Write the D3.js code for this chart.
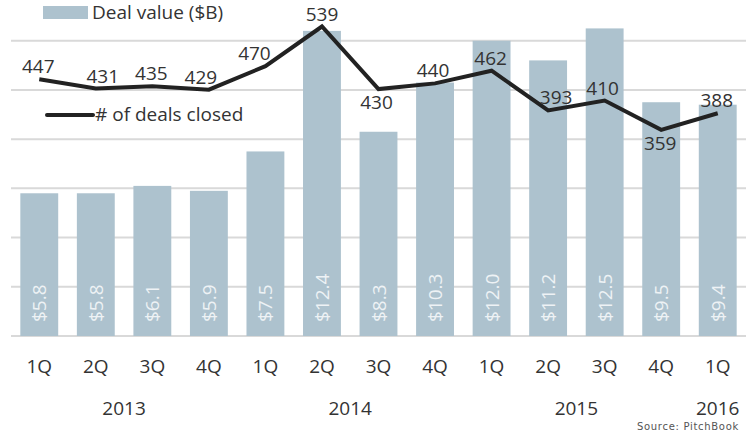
<!DOCTYPE html>
<html>
<head>
<meta charset="utf-8">
<script src="https://cdn.jsdelivr.net/npm/d3@7"></script>
<style>
  html, body { margin: 0; padding: 0; background: #fff; }
  svg { display: block; }
</style>
</head>
<body>
<svg id="chart" width="754" height="436"></svg>
<script>
// ---- data ----
const quarters = ["1Q","2Q","3Q","4Q","1Q","2Q","3Q","4Q","1Q","2Q","3Q","4Q","1Q"];
const years = ["2013","2013","2013","2013","2014","2014","2014","2014","2015","2015","2015","2015","2016"];
const dealValue = [5.8, 5.8, 6.1, 5.9, 7.5, 12.4, 8.3, 10.3, 12.0, 11.2, 12.5, 9.5, 9.4];
const dealsClosed = [447, 431, 435, 429, 470, 539, 430, 440, 462, 393, 410, 359, 388];
const yearLabels = ["2013", "2014", "2015", "2016"];
// label placement for the line values (style only)
const countLabelSide = ["above","above","above","above","above","above","below","above","above","above","above","below","above"];
const countLabelDx = [-1, 7, -1, -8, -11, 0, -2, -2, -1, 8, -2, -1, -1];

const FONT = "'Open Sans', 'Segoe UI', sans-serif";
const svg = d3.select("#chart");
const plotLeft = 11, plotRight = 746, baseY = 336, topY = -8.5;

const x = d3.scaleBand().domain(d3.range(quarters.length)).range([plotLeft, plotRight]).paddingInner(0.33).paddingOuter(0.165);
const y = d3.scaleLinear().domain([0, 14]).range([baseY, topY]);
const y2 = d3.scaleLinear().domain([0, 600]).range([baseY, topY]);

// gridlines
const grid = svg.append("g");
grid.selectAll("line").data(d3.range(0, 13, 2)).join("line")
  .attr("x1", plotLeft).attr("x2", plotRight)
  .attr("y1", d => y(d)).attr("y2", d => y(d))
  .attr("stroke", "#d9d9d9").attr("stroke-width", 2);

// bars
svg.append("g").selectAll("rect").data(dealValue).join("rect")
  .attr("x", (d, i) => x(i)).attr("width", x.bandwidth())
  .attr("y", d => y(d)).attr("height", d => baseY - y(d))
  .attr("fill", "#adc2ce");

// bar labels (rotated)
svg.append("g").selectAll("text").data(dealValue).join("text")
  .attr("transform", (d, i) => `translate(${x(i) + x.bandwidth() / 2 + 7},322) rotate(-90)`)
  .attr("text-anchor", "start")
  .attr("font-family", FONT).attr("font-size", 19)
  .attr("fill", "#eef2f5")
  .text(d => "$" + d.toFixed(1));

// line
const cx = i => x(i) + x.bandwidth() / 2;
const line = d3.line().x((d, i) => cx(i)).y(d => y2(d));
svg.append("path").datum(dealsClosed)
  .attr("d", line).attr("fill", "none")
  .attr("stroke", "#222").attr("stroke-width", 4).attr("stroke-linejoin", "miter");

// line labels
svg.append("g").selectAll("text").data(dealsClosed).join("text")
  .attr("x", (d, i) => cx(i) + countLabelDx[i])
  .attr("y", (d, i) => countLabelSide[i] === "above" ? y2(d) - 6 : y2(d) + 20)
  .attr("text-anchor", "middle")
  .attr("font-family", FONT).attr("font-size", 19)
  .attr("fill", "#333")
  .text(d => d);

// x axis quarter labels
const xAxis = d3.axisBottom(x).tickFormat(i => quarters[i]).tickSize(0).tickPadding(0);
const gx = svg.append("g").attr("transform", `translate(0,${baseY})`).call(xAxis);
gx.select(".domain").remove();
gx.selectAll("text")
  .attr("y", 37).attr("dy", null)
  .attr("font-family", FONT).attr("font-size", 19).attr("fill", "#333");

// year labels centered on their quarters
yearLabels.forEach(yr => {
  const idx = d3.range(years.length).filter(i => years[i] === yr);
  const mid = d3.mean(idx, i => cx(i));
  svg.append("text")
    .attr("x", mid).attr("y", 415)
    .attr("text-anchor", "middle")
    .attr("font-family", FONT).attr("font-size", 19).attr("fill", "#333")
    .text(yr);
});

// legend
svg.append("rect").attr("x", 43).attr("y", 6).attr("width", 45).attr("height", 13).attr("fill", "#adc2ce");
svg.append("text").attr("x", 92).attr("y", 19)
  .attr("font-family", FONT).attr("font-size", 19).attr("fill", "#333")
  .text("Deal value ($B)");
svg.append("line").attr("x1", 47).attr("x2", 93).attr("y1", 115).attr("y2", 115)
  .attr("stroke", "#222").attr("stroke-width", 4).attr("stroke-linecap", "round");
svg.append("text").attr("x", 95).attr("y", 121)
  .attr("font-family", FONT).attr("font-size", 19).attr("fill", "#333")
  .text("# of deals closed");

// source
svg.append("text").attr("x", 739).attr("y", 430)
  .attr("text-anchor", "end")
  .attr("font-family", "'DejaVu Sans', sans-serif").attr("font-size", 10).attr("fill", "#555")
  .attr("letter-spacing", 0.7)
  .text("Source: PitchBook");
</script>
</body>
</html>
